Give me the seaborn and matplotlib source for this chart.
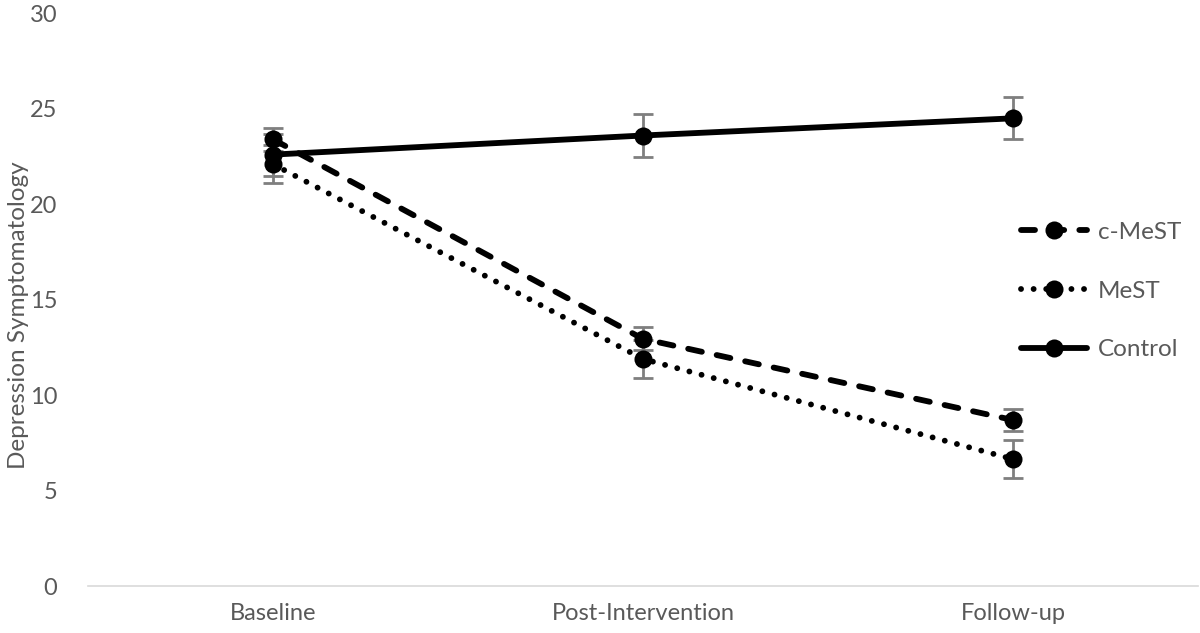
import matplotlib
matplotlib.use("Agg")
import matplotlib.pyplot as plt
import pandas as pd
import seaborn as sns

timepoints = ["Baseline", "Post-Intervention", "Follow-up"]
groups = ["c-MeST", "MeST", "Control"]
cmest_mean = [23.4, 12.95, 8.7]
cmest_err = [0.6, 0.6, 0.6]
mest_mean = [22.1, 11.9, 6.65]
mest_err = [1.0, 1.0, 1.0]
control_mean = [22.6, 23.6, 24.5]
control_err = [1.1, 1.1, 1.1]

means = {"c-MeST": cmest_mean, "MeST": mest_mean, "Control": control_mean}
errs = {"c-MeST": cmest_err, "MeST": mest_err, "Control": control_err}


def main() -> None:
    sns.set_theme(style="white")
    plt.rcParams["font.family"] = ["Lato", "DejaVu Sans"]
    grey = "#595959"

    rows = []
    for g in groups:
        for i, t in enumerate(timepoints):
            rows.append({"time": t, "pos": i, "group": g, "score": means[g][i], "err": errs[g][i]})
    df = pd.DataFrame(rows)

    fig = plt.figure(figsize=(12, 6.33), dpi=100)
    ax = fig.add_axes([0.0733, 0.074, 0.925, 0.905])

    # error bars first, grey with caps
    for g in groups:
        sub = df[df["group"] == g]
        ax.errorbar(sub["pos"], sub["score"], yerr=sub["err"], fmt="none",
                    ecolor="#7f7f7f", elinewidth=2, capsize=7, capthick=2, zorder=1)

    sns.lineplot(data=df, x="pos", y="score", hue="group", style="group",
                 hue_order=groups, style_order=groups,
                 palette=["black", "black", "black"],
                 dashes={"c-MeST": (2.4, 2.6), "MeST": (0.01, 2.15), "Control": ""},
                 markers={"c-MeST": "o", "MeST": "o", "Control": "o"},
                 markersize=13, linewidth=4.2, markeredgewidth=0,
                 ax=ax, zorder=3)
    for line in ax.get_lines():
        line.set_dash_capstyle("round")
        line.set_solid_capstyle("round")

    ax.set_xlim(-0.5, 2.5)
    ax.set_ylim(0, 30)
    ax.set_xticks(range(len(timepoints)))
    ax.set_xticklabels(timepoints)
    ax.set_yticks(range(0, 31, 5))
    ax.tick_params(axis="both", colors=grey, labelsize=17, length=0, pad=12)
    ax.tick_params(axis="y", pad=22)
    ax.set_xlabel("")
    ax.set_ylabel("Depression Symptomatology", color=grey, fontsize=17.5)
    ax.yaxis.set_label_coords(-0.053, 0.473)

    sns.despine(ax=ax, left=True)
    ax.spines["bottom"].set_color("#d9d9d9")
    ax.spines["bottom"].set_linewidth(1.2)

    handles, labels = ax.get_legend_handles_labels()
    for h in handles:
        h.set_dash_capstyle("round")
    leg = ax.legend(handles, labels, loc="center right", bbox_to_anchor=(1.0, 0.515),
                    frameon=False, fontsize=17.5, handlelength=2.7, labelspacing=1.55,
                    handletextpad=0.45, borderaxespad=0.3)
    for t in leg.get_texts():
        t.set_color(grey)

    fig.savefig("out.png", dpi=100)
    plt.close(fig)


if __name__ == "__main__":
    main()
